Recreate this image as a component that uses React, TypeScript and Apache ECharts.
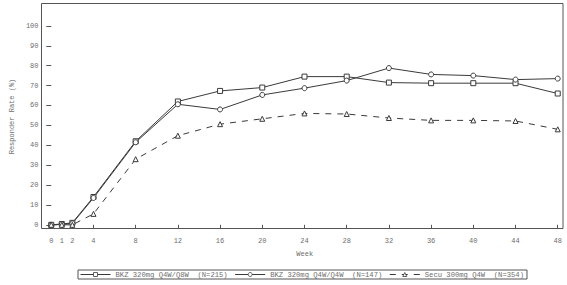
import React, { useEffect, useRef } from "react";
import * as echarts from "echarts";

const weeks = [0, 1, 2, 4, 8, 12, 16, 20, 24, 28, 32, 36, 40, 44, 48];
const xTicks = [0, 1, 2, 4, 8, 12, 16, 20, 24, 28, 32, 36, 40, 44, 48];
const yTicks = [0, 10, 20, 30, 40, 50, 60, 70, 80, 90, 100];
const bkzQ8W = [0, 0.4, 1, 14, 42, 62, 67.3, 69, 74.5, 74.5, 71.5, 71.2, 71.2, 71.2, 66];
const bkzQ4W = [0, 0.3, 0.7, 13.5, 41.5, 60.6, 58, 65.3, 68.7, 72.5, 78.8, 75.6, 75, 73, 73.5];
const secu = [0, 0, 0, 5.5, 33, 44.8, 50.6, 53.3, 56, 55.7, 53.7, 52.5, 52.5, 52.2, 48];
const seriesNames = [
  "BKZ 320mg Q4W/Q8W  (N=215)",
  "BKZ 320mg Q4W/Q4W  (N=147)",
  "Secu 300mg Q4W  (N=354)",
];

const FONT = "Liberation Mono";
const TEXT = "#6e6e6e";
const LINE = "#3a3a3a";
const FRAME = "#555";

export default function App() {
  const ref = useRef<HTMLDivElement>(null);
  useEffect(() => {
    if (!ref.current) return;
    const chart = echarts.init(ref.current, undefined, { renderer: "svg" });
    const mk = (name: string, vals: number[], symbol: string, dashed: boolean) => ({
      name,
      type: "line",
      data: weeks.map((w, i) => [w, vals[i]]),
      symbol,
      symbolSize: 5,
      showSymbol: true,
      lineStyle: { color: LINE, width: 1, type: dashed ? [6, 6] : "solid" },
      itemStyle: { color: "#fff", borderColor: LINE, borderWidth: 1 },
      emphasis: { disabled: true },
    });
    chart.setOption({
      animation: false,
      textStyle: { fontFamily: FONT },
      grid: {
        left: 41,
        right: 4,
        top: 4,
        bottom: 56,
      },
      graphic: [
        {
          type: "rect",
          z: 100,
          silent: true,
          shape: { x: 41.5, y: 3.5, width: 521.5, height: 225 },
          style: { fill: "none", stroke: FRAME, lineWidth: 1 },
        },
      ],
      xAxis: {
        type: "value",
        min: -0.45,
        max: 48.5,
        name: "Week",
        nameLocation: "middle",
        nameGap: 21,
        nameTextStyle: { color: TEXT, fontSize: 7, fontFamily: FONT },
        axisLine: { show: false },
        splitLine: { show: false },
        axisTick: { show: true, customValues: xTicks, length: 4, lineStyle: { color: FRAME } },
        axisLabel: {
          customValues: xTicks,
          color: TEXT,
          fontSize: 7,
          fontFamily: FONT,
          margin: 8,
        },
      },
      yAxis: {
        type: "value",
        min: -2.1,
        max: 111,
        name: "Responder Rate (%)",
        nameLocation: "middle",
        nameGap: 30,
        nameTextStyle: { color: TEXT, fontSize: 7, fontFamily: FONT },
        axisLine: { show: false },
        splitLine: { show: false },
        axisTick: { show: true, customValues: yTicks, length: 5, lineStyle: { color: FRAME } },
        axisLabel: {
          customValues: yTicks,
          color: TEXT,
          fontSize: 7,
          fontFamily: FONT,
          margin: 8,
        },
      },
      legend: {
        bottom: 6,
        left: 78,
        data: seriesNames,
        itemWidth: 30,
        itemHeight: 5,
        itemGap: 7,
        padding: [1, 3, 1, 2],
        borderColor: FRAME,
        borderWidth: 1,
        itemStyle: { color: "#fff", borderColor: LINE, borderWidth: 0.8 },
        lineStyle: { width: 1 },
        textStyle: { color: TEXT, fontSize: 7.2, fontFamily: FONT },
        selectedMode: false,
      },
      series: [
        mk(seriesNames[0], bkzQ8W, "rect", false),
        mk(seriesNames[1], bkzQ4W, "circle", false),
        mk(seriesNames[2], secu, "triangle", true),
      ],
    });
    return () => chart.dispose();
  }, []);
  return (
    <div
      ref={ref}
      style={{ position: "absolute", left: 0, top: 0, width: 567, height: 285 }}
    />
  );
}
